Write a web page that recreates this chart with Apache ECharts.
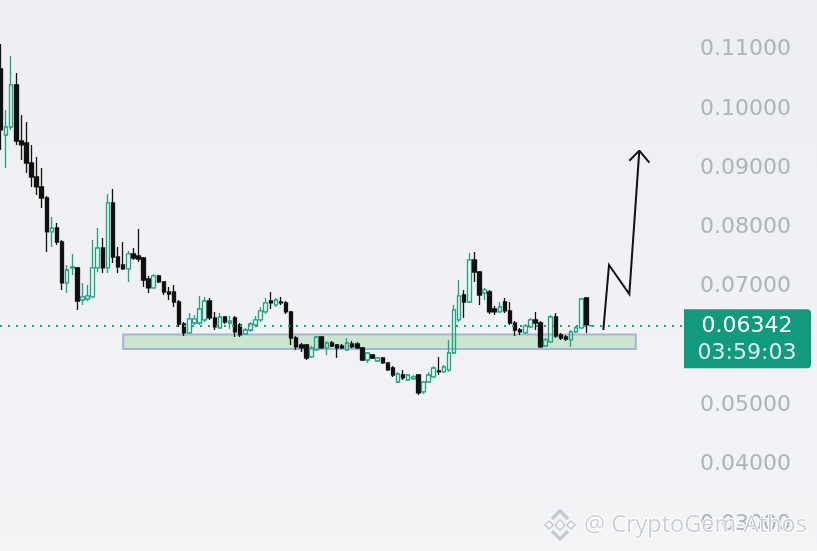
<!DOCTYPE html>
<html><head><meta charset="utf-8">
<script src="https://cdn.jsdelivr.net/npm/echarts@6/dist/echarts.min.js"></script>
<style>html,body{margin:0;padding:0;background:#eff1f3}#c{width:817px;height:551px}</style>
</head><body><div id="c"></div><script>
// ---- data ----
const opens = [0.10672,0.09558,0.09693,0.10402,0.09457,0.09424,0.09086,0.08850,0.08682,0.08496,
0.07923,0.07990,0.07754,0.07063,0.07316,0.07316,0.06776,0.06793,0.06827,0.07316,
0.07653,0.07316,0.08412,0.07501,0.07366,0.07299,0.07552,0.07518,0.07484,0.07130,
0.06979,0.07181,0.07080,0.06911,0.06911,0.06742,0.06371,0.06220,0.06388,0.06388,
0.06439,0.06759,0.06473,0.06304,0.06489,0.06388,0.06473,0.06355,0.06203,0.06270,
0.06355,0.06439,0.06574,0.06759,0.06692,0.06742,0.06726,0.06574,0.06135,0.06017,
0.06017,0.05815,0.05933,0.06152,0.05967,0.06051,0.06017,0.06000,0.05933,0.06034,
0.06034,0.05967,0.05764,0.05849,0.05747,0.05798,0.05714,0.05629,0.05393,0.05511,
0.05427,0.05444,0.05511,0.05225,0.05393,0.05478,0.05579,0.05562,0.05596,0.05882,
0.06439,0.06860,0.06742,0.07451,0.07248,0.06894,0.06911,0.06624,0.06574,0.06742,
0.06591,0.06388,0.06270,0.06220,0.06321,0.06439,0.06388,0.06000,0.06068,0.06489,
0.06186,0.06152,0.06102,0.06237,0.06304,0.06810,0.06340];
const closes = [0.09643,0.09693,0.10402,0.09457,0.09390,0.09086,0.08850,0.08682,0.08496,0.07923,
0.07990,0.07754,0.07063,0.07282,0.07333,0.06759,0.06827,0.06844,0.07316,0.07653,
0.07316,0.08412,0.07501,0.07333,0.07299,0.07552,0.07484,0.07467,0.07113,0.06979,
0.07181,0.07080,0.06911,0.06877,0.06742,0.06371,0.06220,0.06456,0.06456,0.06624,
0.06759,0.06473,0.06321,0.06489,0.06405,0.06422,0.06237,0.06186,0.06270,0.06371,
0.06439,0.06591,0.06726,0.06726,0.06776,0.06726,0.06574,0.06135,0.05984,0.05967,
0.05798,0.05967,0.06152,0.05967,0.06051,0.06000,0.05967,0.05967,0.06051,0.05984,
0.05967,0.05764,0.05882,0.05798,0.05798,0.05714,0.05596,0.05511,0.05528,0.05461,
0.05511,0.05478,0.05208,0.05393,0.05511,0.05629,0.05562,0.05646,0.05882,0.06608,
0.06844,0.06742,0.07451,0.07248,0.06860,0.06945,0.06574,0.06574,0.06658,0.06591,
0.06388,0.06270,0.06237,0.06338,0.06439,0.06388,0.05984,0.06102,0.06489,0.06169,
0.06135,0.06118,0.06237,0.06304,0.06793,0.06355,0.06342];
const lows = [0.09306,0.09002,0.09643,0.09390,0.09137,0.08918,0.08682,0.08547,0.08328,0.07586,
0.07670,0.07704,0.06945,0.06894,0.07198,0.06608,0.06692,0.06759,0.06810,0.07248,
0.07231,0.07231,0.07400,0.07231,0.07282,0.07080,0.07451,0.07417,0.06995,0.06894,
0.06962,0.07063,0.06860,0.06776,0.06658,0.06321,0.06169,0.06203,0.06355,0.06355,
0.06405,0.06439,0.06270,0.06287,0.06371,0.06287,0.06152,0.06152,0.06186,0.06237,
0.06321,0.06405,0.06540,0.06624,0.06658,0.06692,0.06540,0.06017,0.05933,0.05899,
0.05764,0.05798,0.05916,0.05950,0.05849,0.05984,0.05798,0.05950,0.05916,0.05967,
0.05950,0.05747,0.05714,0.05781,0.05731,0.05697,0.05579,0.05478,0.05377,0.05427,
0.05410,0.05427,0.05174,0.05191,0.05377,0.05461,0.05511,0.05545,0.05562,0.05866,
0.06405,0.06473,0.06726,0.07080,0.06692,0.06776,0.06540,0.06523,0.06557,0.06557,
0.06355,0.06169,0.06186,0.06203,0.06304,0.06270,0.05967,0.05984,0.06051,0.06135,
0.06102,0.06085,0.05984,0.06220,0.06287,0.06220,0.06338];
const highs = [0.11093,0.09980,0.10891,0.10604,0.09896,0.09778,0.09390,0.09188,0.09002,0.08530,
0.08176,0.08075,0.07788,0.07366,0.07552,0.07333,0.07063,0.07029,0.07788,0.07990,
0.07822,0.08564,0.08648,0.07670,0.07754,0.07602,0.07653,0.07973,0.07501,0.07181,
0.07215,0.07198,0.07097,0.06995,0.07029,0.06776,0.06405,0.06557,0.06523,0.06844,
0.06827,0.06810,0.06574,0.06557,0.06506,0.06506,0.06506,0.06388,0.06304,0.06405,
0.06506,0.06658,0.06810,0.06911,0.06810,0.06827,0.06759,0.06591,0.06169,0.06051,
0.06034,0.06000,0.06169,0.06169,0.06085,0.06085,0.06034,0.06034,0.06135,0.06085,
0.06068,0.05984,0.05899,0.05866,0.05815,0.05815,0.05731,0.05663,0.05562,0.05596,
0.05528,0.05511,0.05528,0.05410,0.05562,0.05663,0.05815,0.05680,0.06102,0.06692,
0.07113,0.06945,0.07569,0.07586,0.07265,0.06979,0.06945,0.06675,0.06742,0.06810,
0.06742,0.06422,0.06304,0.06371,0.06473,0.06574,0.06422,0.06135,0.06523,0.06557,
0.06220,0.06186,0.06270,0.06338,0.06810,0.06827,0.06355];
const yTicks = [0.03,0.04,0.05,0.06,0.07,0.08,0.09,0.10,0.11];
const lastPrice = 0.06342;
const countdown = '03:59:03';
const zoneX = [24.0, 124.7];
const zonePrice = [0.06194, 0.05950];
const arrowX = [118.33, 119.45, 123.44, 125.40];
const arrowY = [0.06270, 0.07366, 0.06877, 0.09294];
const headX = [123.44, 125.40, 127.37];
const headY = [0.09125, 0.09294, 0.09091];
const watermark = '@ CryptoGem-Athos';

// ---- chart ----
const GREEN = '#1ea285', BLACK = '#111111';
const candles = opens.map((o, i) => [i, o, closes[i], lows[i], highs[i]]);
const arrowLine = arrowX.map((x, i) => [x, arrowY[i]]);
const arrowHead = headX.map((x, i) => [x, headY[i]]);
const chart = echarts.init(document.getElementById('c'), null, {renderer: 'canvas'});
const AXIS_FONT = '"DejaVu Sans"';
chart.setOption({
  animation: false,
  backgroundColor: {type: 'linear', x: 0, y: 0, x2: 0, y2: 1,
    colorStops: [{offset: 0, color: '#eceef1'}, {offset: 1, color: '#f3f4f6'}]},
  grid: {left: 0, right: 133, top: -9.8, bottom: -32.2, containLabel: false, outerBoundsMode: 'none'},
  xAxis: {type: 'value', min: -0.196, max: 134.18, show: false, splitLine: {show: false}},
  yAxis: {type: 'value', position: 'right', min: 0.02, max: 0.12, interval: 0.01,
    axisLine: {show: false}, axisTick: {show: false}, splitLine: {show: false},
    axisLabel: {margin: 16, color: '#afb3b7', fontFamily: 'DejaVu Sans', fontSize: 22,
      padding: [5, 0, 0, 0],
      formatter: v => (v < 0.025 || v > 0.115) ? '' : v.toFixed(5)}},
  series: [{
    type: 'candlestick', data: candles, barWidth: 4, clip: false,
    itemStyle: {color: 'rgba(0,0,0,0)', color0: BLACK, borderColor: GREEN, borderColor0: BLACK, borderWidth: 1.3},
    markArea: {silent: true, data: [[{coord: [zoneX[0], zonePrice[0]]}, {coord: [zoneX[1], zonePrice[1]]}]],
      itemStyle: {color: '#cbe6cf', borderColor: '#a8b3da', borderWidth: 2}},
    markLine: {silent: true, symbol: 'none', precision: 5, data: [{yAxis: lastPrice}], label: {show: false},
      lineStyle: {color: GREEN, type: [2, 6], width: 2}}
  }, {
    type: 'line', data: arrowLine, symbol: 'none', z: 10, clip: false,
    lineStyle: {color: BLACK, width: 2, join: 'miter'}
  }, {
    type: 'line', data: arrowHead, symbol: 'none', z: 10, clip: false,
    lineStyle: {color: BLACK, width: 2}
  }]
});
const py = chart.convertToPixel({yAxisIndex: 0}, lastPrice);
const wmY = 525, logoX = 560;
function diamond(cx, cy, r) { return [[cx, cy - r], [cx + r, cy], [cx, cy + r], [cx - r, cy]]; }
const logoStyle = {fill: 'rgba(255,255,255,0.7)', stroke: '#c6c9cd', lineWidth: 1.5};
chart.setOption({graphic: [
  {type: 'rect', z: 100, shape: {x: 684, y: py - 16.5, width: 127, height: 59, r: [0, 4, 4, 0]}, style: {fill: '#119a7d'}},
  {type: 'text', z: 101, x: 747, y: py + 1, style: {text: lastPrice.toFixed(5), fill: '#ffffff', font: '22px ' + AXIS_FONT, align: 'center', verticalAlign: 'middle'}},
  {type: 'text', z: 101, x: 747, y: py + 28, style: {text: countdown, fill: 'rgba(255,255,255,0.85)', font: '22px ' + AXIS_FONT, align: 'center', verticalAlign: 'middle'}},
  {type: 'polygon', z: 100, shape: {points: diamond(logoX, wmY, 5)}, style: logoStyle},
  {type: 'polygon', z: 100, shape: {points: diamond(logoX - 11, wmY, 4)}, style: logoStyle},
  {type: 'polygon', z: 100, shape: {points: diamond(logoX + 11, wmY, 4)}, style: logoStyle},
  {type: 'polyline', z: 100, shape: {points: [[logoX - 8, wmY - 6], [logoX, wmY - 14], [logoX + 8, wmY - 6]]}, style: {stroke: '#c6c9cd', lineWidth: 3.5, fill: null}},
  {type: 'polyline', z: 100, shape: {points: [[logoX - 8, wmY + 6], [logoX, wmY + 14], [logoX + 8, wmY + 6]]}, style: {stroke: '#c6c9cd', lineWidth: 3.5, fill: null}},
  {type: 'text', z: 100, x: 584, y: wmY, style: {text: watermark, fill: '#ccd0d4', stroke: '#ffffff', lineWidth: 2, font: '23.5px "Open Sans"', verticalAlign: 'middle'}}
]});
</script></body></html>
